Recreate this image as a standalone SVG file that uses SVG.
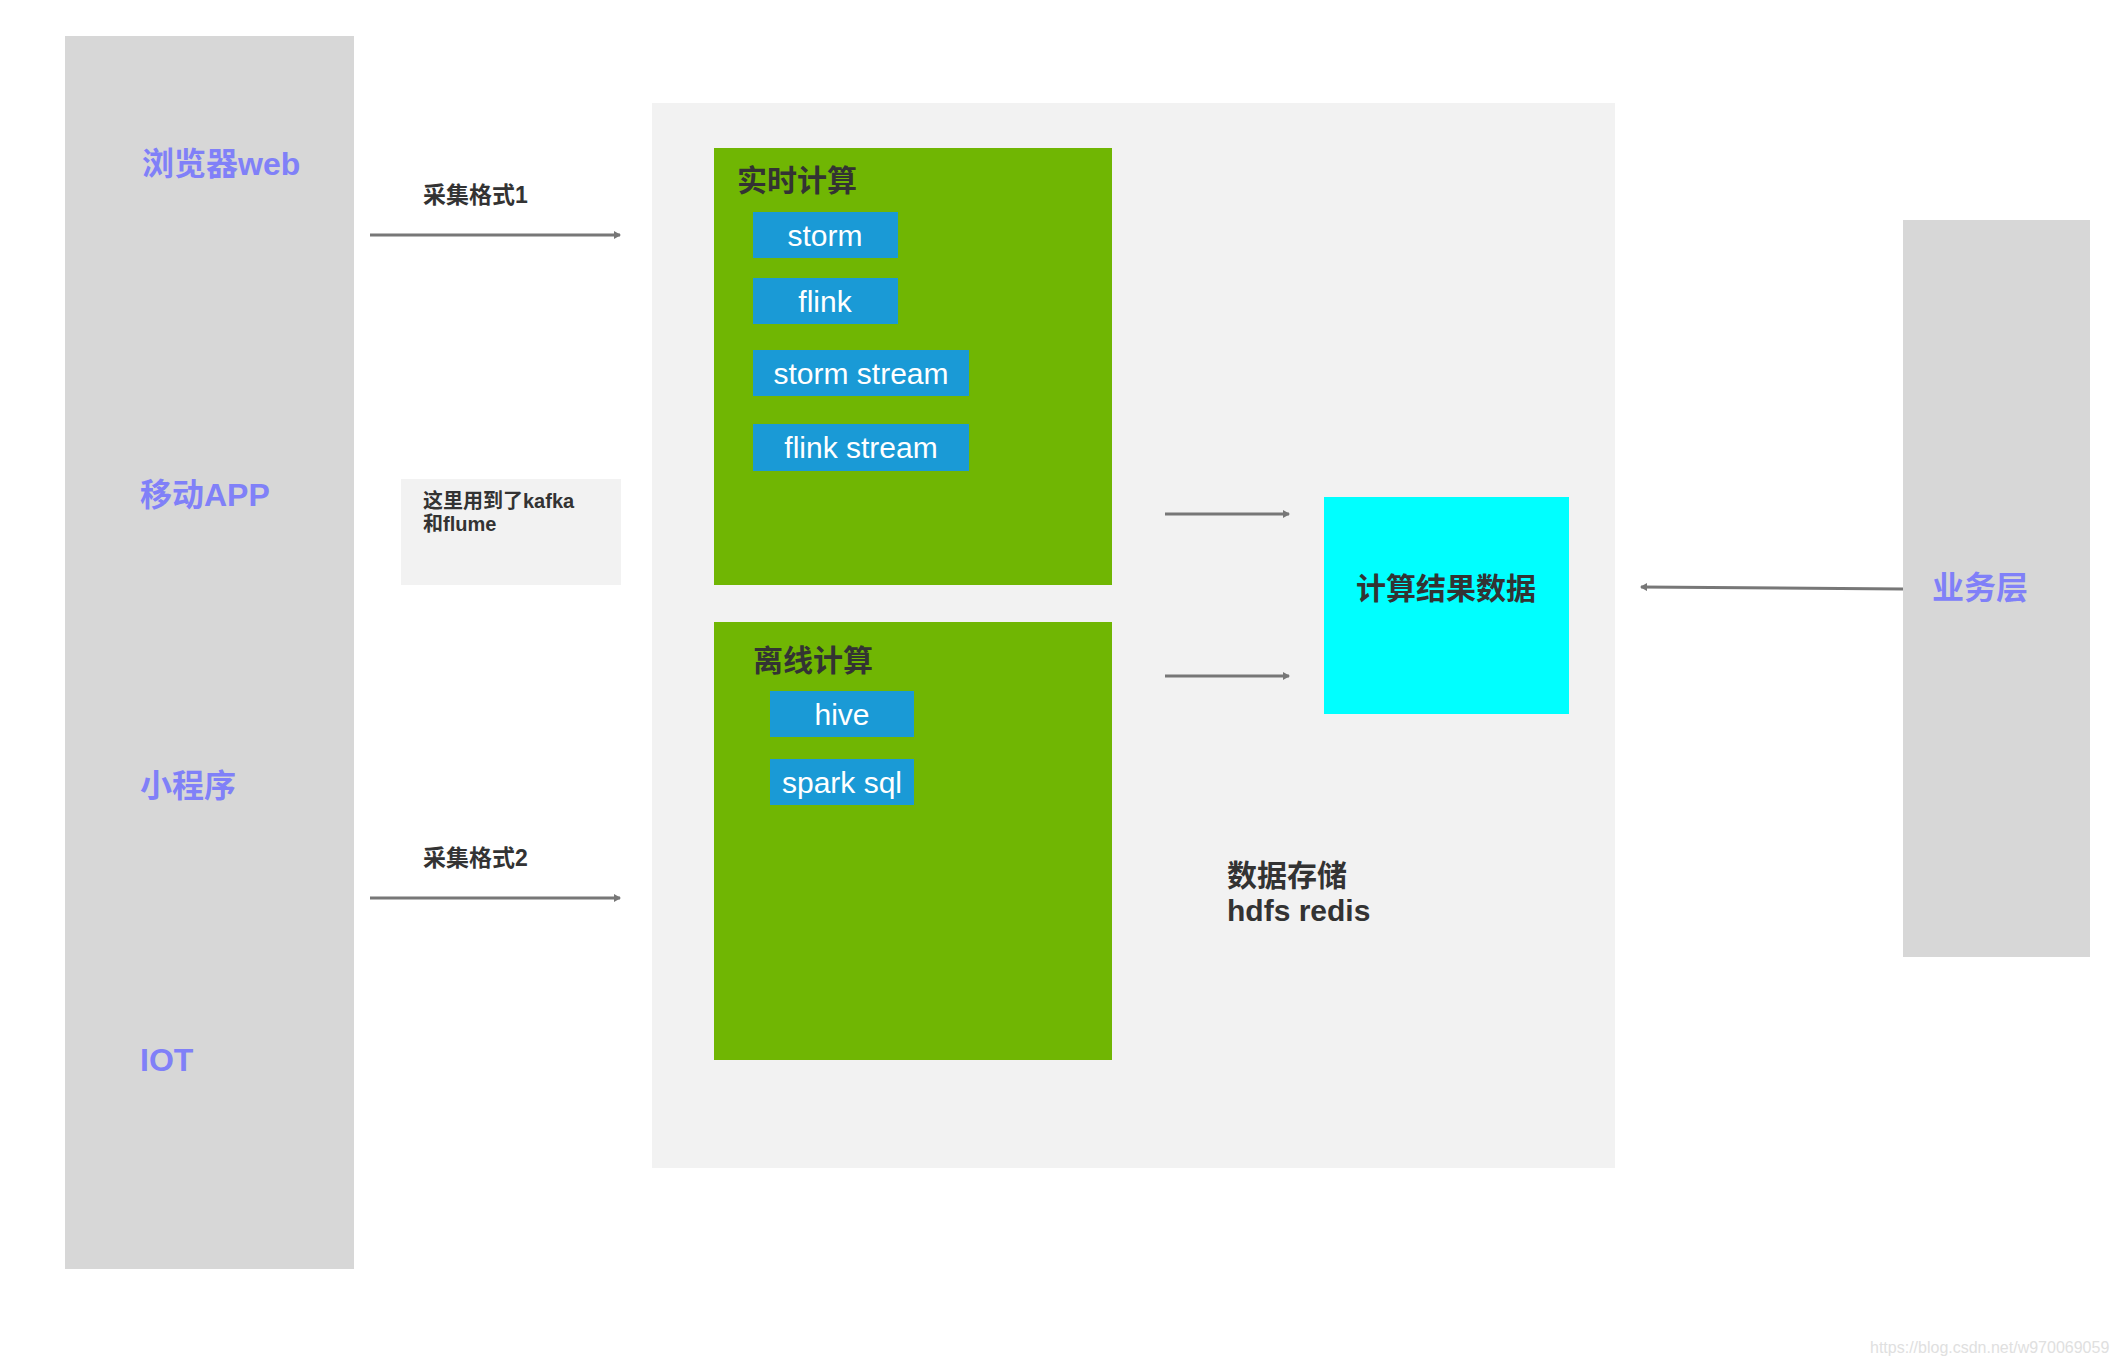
<svg xmlns="http://www.w3.org/2000/svg" width="2117" height="1366" viewBox="0 0 2117 1366">
<style>
text{font-family:"Liberation Sans","Noto Sans CJK SC",sans-serif;font-weight:bold}
.src{fill:#8080f8;font-size:32px}
.lbl{fill:#333;font-size:23px}
.hd{fill:#333;font-size:30px}
.btn{fill:#1a9ad6}
.bt{fill:#fff;font-size:30px;font-weight:normal;text-anchor:middle}
.ln{stroke:#777;stroke-width:3;fill:none;marker-end:url(#ah)}
</style>
<defs><marker id="ah" markerWidth="8" markerHeight="8" refX="6" refY="4" orient="auto" markerUnits="userSpaceOnUse"><path d="M0,0L7,4L0,8z" fill="#777"/></marker></defs>
<rect width="2117" height="1366" fill="#fff"/>
<g id="sources"><rect x="65" y="36" width="289" height="1233" fill="#d7d7d7"/>
<text class="src" x="142" y="175">浏览器web</text>
<text class="src" x="140" y="506">移动APP</text>
<text class="src" x="140" y="797">小程序</text>
<text class="src" x="140" y="1071">IOT</text></g>
<g id="note"><rect x="401" y="479" width="220" height="106" fill="#f2f2f2"/>
<text class="lbl" x="423" y="508" style="font-size:20px">这里用到了kafka</text>
<text class="lbl" x="423" y="531" style="font-size:20px">和flume</text></g>
<g id="platform"><rect x="652" y="103" width="963" height="1065" fill="#f2f2f2"/>
<text class="hd" x="1227" y="886">数据存储</text>
<text class="hd" x="1227" y="921">hdfs redis</text></g>
<g id="realtime"><rect x="714" y="148" width="398" height="437" fill="#70b603"/>
<text class="hd" x="737" y="191">实时计算</text>
<rect class="btn" x="753" y="212" width="145" height="46"/><text class="bt" x="825" y="246">storm</text>
<rect class="btn" x="753" y="278" width="145" height="46"/><text class="bt" x="825" y="312">flink</text>
<rect class="btn" x="753" y="350" width="216" height="46"/><text class="bt" x="861" y="384">storm stream</text>
<rect class="btn" x="753" y="424" width="216" height="47"/><text class="bt" x="861" y="458">flink stream</text></g>
<g id="offline"><rect x="714" y="622" width="398" height="438" fill="#70b603"/>
<text class="hd" x="753" y="671">离线计算</text>
<rect class="btn" x="770" y="691" width="144" height="46"/><text class="bt" x="842" y="725">hive</text>
<rect class="btn" x="770" y="759" width="144" height="46"/><text class="bt" x="842" y="793">spark sql</text></g>
<g id="result"><rect x="1324" y="497" width="245" height="217" fill="#00ffff"/>
<text class="hd" x="1446" y="599" text-anchor="middle">计算结果数据</text></g>
<g id="business"><rect x="1903" y="220" width="187" height="737" fill="#d7d7d7"/>
<text class="src" x="1980" y="599" text-anchor="middle">业务层</text></g>
<g id="connectors">
<text class="lbl" x="423" y="203">采集格式1</text>
<path class="ln" d="M370,235H620"/>
<text class="lbl" x="423" y="866">采集格式2</text>
<path class="ln" d="M370,898H620"/>
<path class="ln" d="M1165,514H1289"/>
<path class="ln" d="M1165,676H1289"/>
<path class="ln" d="M1903,589L1641,587"/>
</g>
<text x="1870" y="1353" style="font-size:16px;font-weight:normal;fill:#e0e0e0">https://blog.csdn.net/w970069059</text>
</svg>
